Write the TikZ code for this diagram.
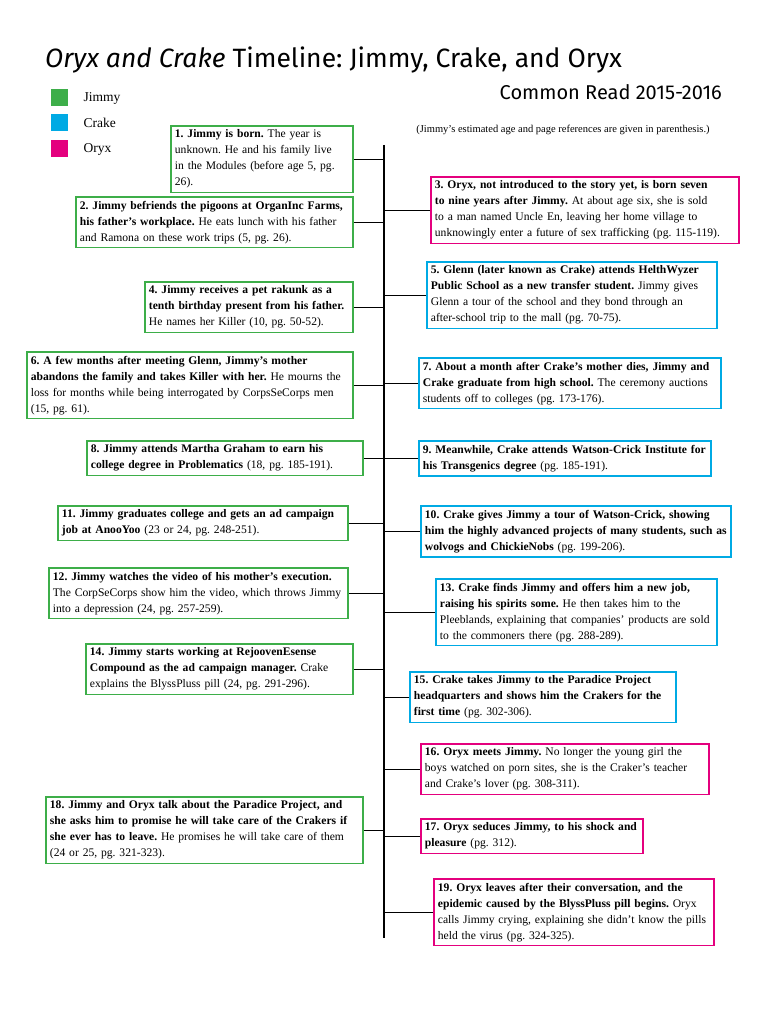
\documentclass[tikz,border=0pt]{standalone}
\usepackage{fontspec}
\setmainfont{Liberation Serif}
\newfontfamily\titlefont{Fira Sans}
\frenchspacing
\hyphenpenalty=10000
\exhyphenpenalty=10000
\begin{document}
\begin{tikzpicture}[x=1pt,y=1pt,
  ev/.style={draw=#1,line width=1.8pt,anchor=north west,align=left,inner sep=4pt,font=\fontsize{11.6}{16}\selectfont},
  conn/.style={line width=1.3pt,black},
  leg/.style={fill=#1,minimum size=17pt,inner sep=0pt}]
\definecolor{cg}{RGB}{61,174,73}
\definecolor{cb}{RGB}{0,170,228}
\definecolor{cm}{RGB}{228,0,126}
\useasboundingbox (0,0) rectangle (768,-1024);
\node[anchor=base west,font=\titlefont\fontsize{26.5}{30}\selectfont,inner sep=0pt] (title) at (45,-68) {\textit{Oryx and Crake} Timeline: Jimmy, Crake, and Oryx};
\node[anchor=base east,font=\titlefont\fontsize{20}{24}\selectfont,inner sep=0pt] (cr) at (722,-100) {Common Read 2015-2016};
\node[anchor=base,font=\fontsize{10.5}{12}\selectfont] (note) at (563,-133) {(Jimmy's estimated age and page references are given in parenthesis.)};
\node[leg=cg] (lg) at (59,-98) {};
\node[leg=cb] (lb) at (59,-123) {};
\node[leg=cm] (lm) at (59,-149) {};
\node[anchor=west,font=\fontsize{13.5}{15}\selectfont] at (80,-98) {Jimmy};
\node[anchor=west,font=\fontsize{13.5}{15}\selectfont] at (80,-123) {Crake};
\node[anchor=west,font=\fontsize{13.5}{15}\selectfont] at (80,-149) {Oryx};
\coordinate (tt) at (384,-145);
\coordinate (tb) at (384,-938);
\draw[conn] (tt) -- (tb);

\node[ev=cg,text width=174pt] (b1) at (170,-125) {\textbf{1. Jimmy is born.} The year is unknown. He and his family live in the Modules (before age 5, pg. 26).};
\node[ev=cg,text width=269pt] (b2) at (75,-196) {\textbf{2. Jimmy befriends the pigoons at OrganInc Farms, his father's workplace.} He eats lunch with his father and Ramona on these work trips (5, pg. 26).};
\node[ev=cm,text width=300pt] (b3) at (430,-176) {\textbf{3. Oryx, not introduced to the story yet, is born seven to nine years after Jimmy.} At about age six, she is sold to a man named Uncle En, leaving her home village to unknowingly enter a future of sex trafficking (pg. 115-119).};
\node[ev=cg,text width=200pt] (b4) at (144,-281) {\textbf{4. Jimmy receives a pet rakunk as a tenth birthday present from his father.} He names her Killer (10, pg. 50-52).};
\node[ev=cb,text width=282pt] (b5) at (426,-261) {\textbf{5. Glenn (later known as Crake) attends HelthWyzer Public School as a new transfer student.} Jimmy gives Glenn a tour of the school and they bond through an after-school trip to the mall (pg. 70-75).};
\node[ev=cg,text width=318pt] (b6) at (26,-351) {\textbf{6. A few months after meeting Glenn, Jimmy's mother abandons the family and takes Killer with her.} He mourns the loss for months while being interrogated by CorpsSeCorps men (15, pg. 61).};
\node[ev=cb,text width=294pt] (b7) at (418,-357) {\textbf{7. About a month after Crake's mother dies, Jimmy and Crake graduate from high school.} The ceremony auctions students off to colleges (pg. 173-176).};
\node[ev=cg,text width=268pt] (b8) at (86,-440) {\textbf{8. Jimmy attends Martha Graham to earn his college degree in Problematics} (18, pg. 185-191).};
\node[ev=cb,text width=284pt] (b9) at (418,-440) {\textbf{9. Meanwhile, Crake attends Watson-Crick Institute for his Transgenics degree} (pg. 185-191).};
\node[ev=cg,text width=282pt] (b11) at (57,-505) {\textbf{11. Jimmy graduates college and gets an ad campaign job at AnooYoo} (23 or 24, pg. 248-251).};
\node[ev=cb,text width=302pt] (b10) at (420,-505) {\textbf{10. Crake gives Jimmy a tour of Watson-Crick, showing him the highly advanced projects of many students, such as wolvogs and ChickieNobs} (pg. 199-206).};
\node[ev=cg,text width=291pt] (b12) at (48,-567) {\textbf{12. Jimmy watches the video of his mother's execution.} The CorpSeCorps show him the video, which throws Jimmy into a depression (24, pg. 257-259).};
\node[ev=cb,text width=273pt] (b13) at (435,-578) {\textbf{13. Crake finds Jimmy and offers him a new job, raising his spirits some.} He then takes him to the Pleeblands, explaining that companies' products are sold to the commoners there (pg. 288-289).};
\node[ev=cg,text width=259pt] (b14) at (85,-643) {\textbf{14. Jimmy starts working at RejoovenEsense Compound as the ad campaign manager.} Crake explains the BlyssPluss pill (24, pg. 291-296).};
\node[ev=cb,text width=258pt] (b15) at (409,-671) {\textbf{15. Crake takes Jimmy to the Paradice Project headquarters and shows him the Crakers for the first time} (pg. 302-306).};
\node[ev=cm,text width=280pt] (b16) at (420,-743) {\textbf{16. Oryx meets Jimmy.} No longer the young girl the boys watched on porn sites, she is the Craker's teacher and Crake's lover (pg. 308-311).};
\node[ev=cg,text width=309pt] (b18) at (45,-796) {\textbf{18. Jimmy and Oryx talk about the Paradice Project, and she asks him to promise he will take care of the Crakers if she ever has to leave.} He promises he will take care of them (24 or 25, pg. 321-323).};
\node[ev=cm,text width=214pt] (b17) at (420,-818) {\textbf{17. Oryx seduces Jimmy, to his shock and pleasure} (pg. 312).};
\node[ev=cm,text width=272pt] (b19) at (433,-878) {\textbf{19. Oryx leaves after their conversation, and the epidemic caused by the BlyssPluss pill begins.} Oryx calls Jimmy crying, explaining she didn't know the pills held the virus (pg. 324-325).};

\foreach \b in {b1,b2,b4,b6,b8,b11,b12,b14,b18}{\draw[conn] (\b.east) -- (\b.east -| tt);}
\foreach \b in {b3,b5,b7,b9,b10,b13,b15,b16,b17,b19}{\draw[conn] (\b.west) -- (\b.west -| tt);}
\end{tikzpicture}
\end{document}
